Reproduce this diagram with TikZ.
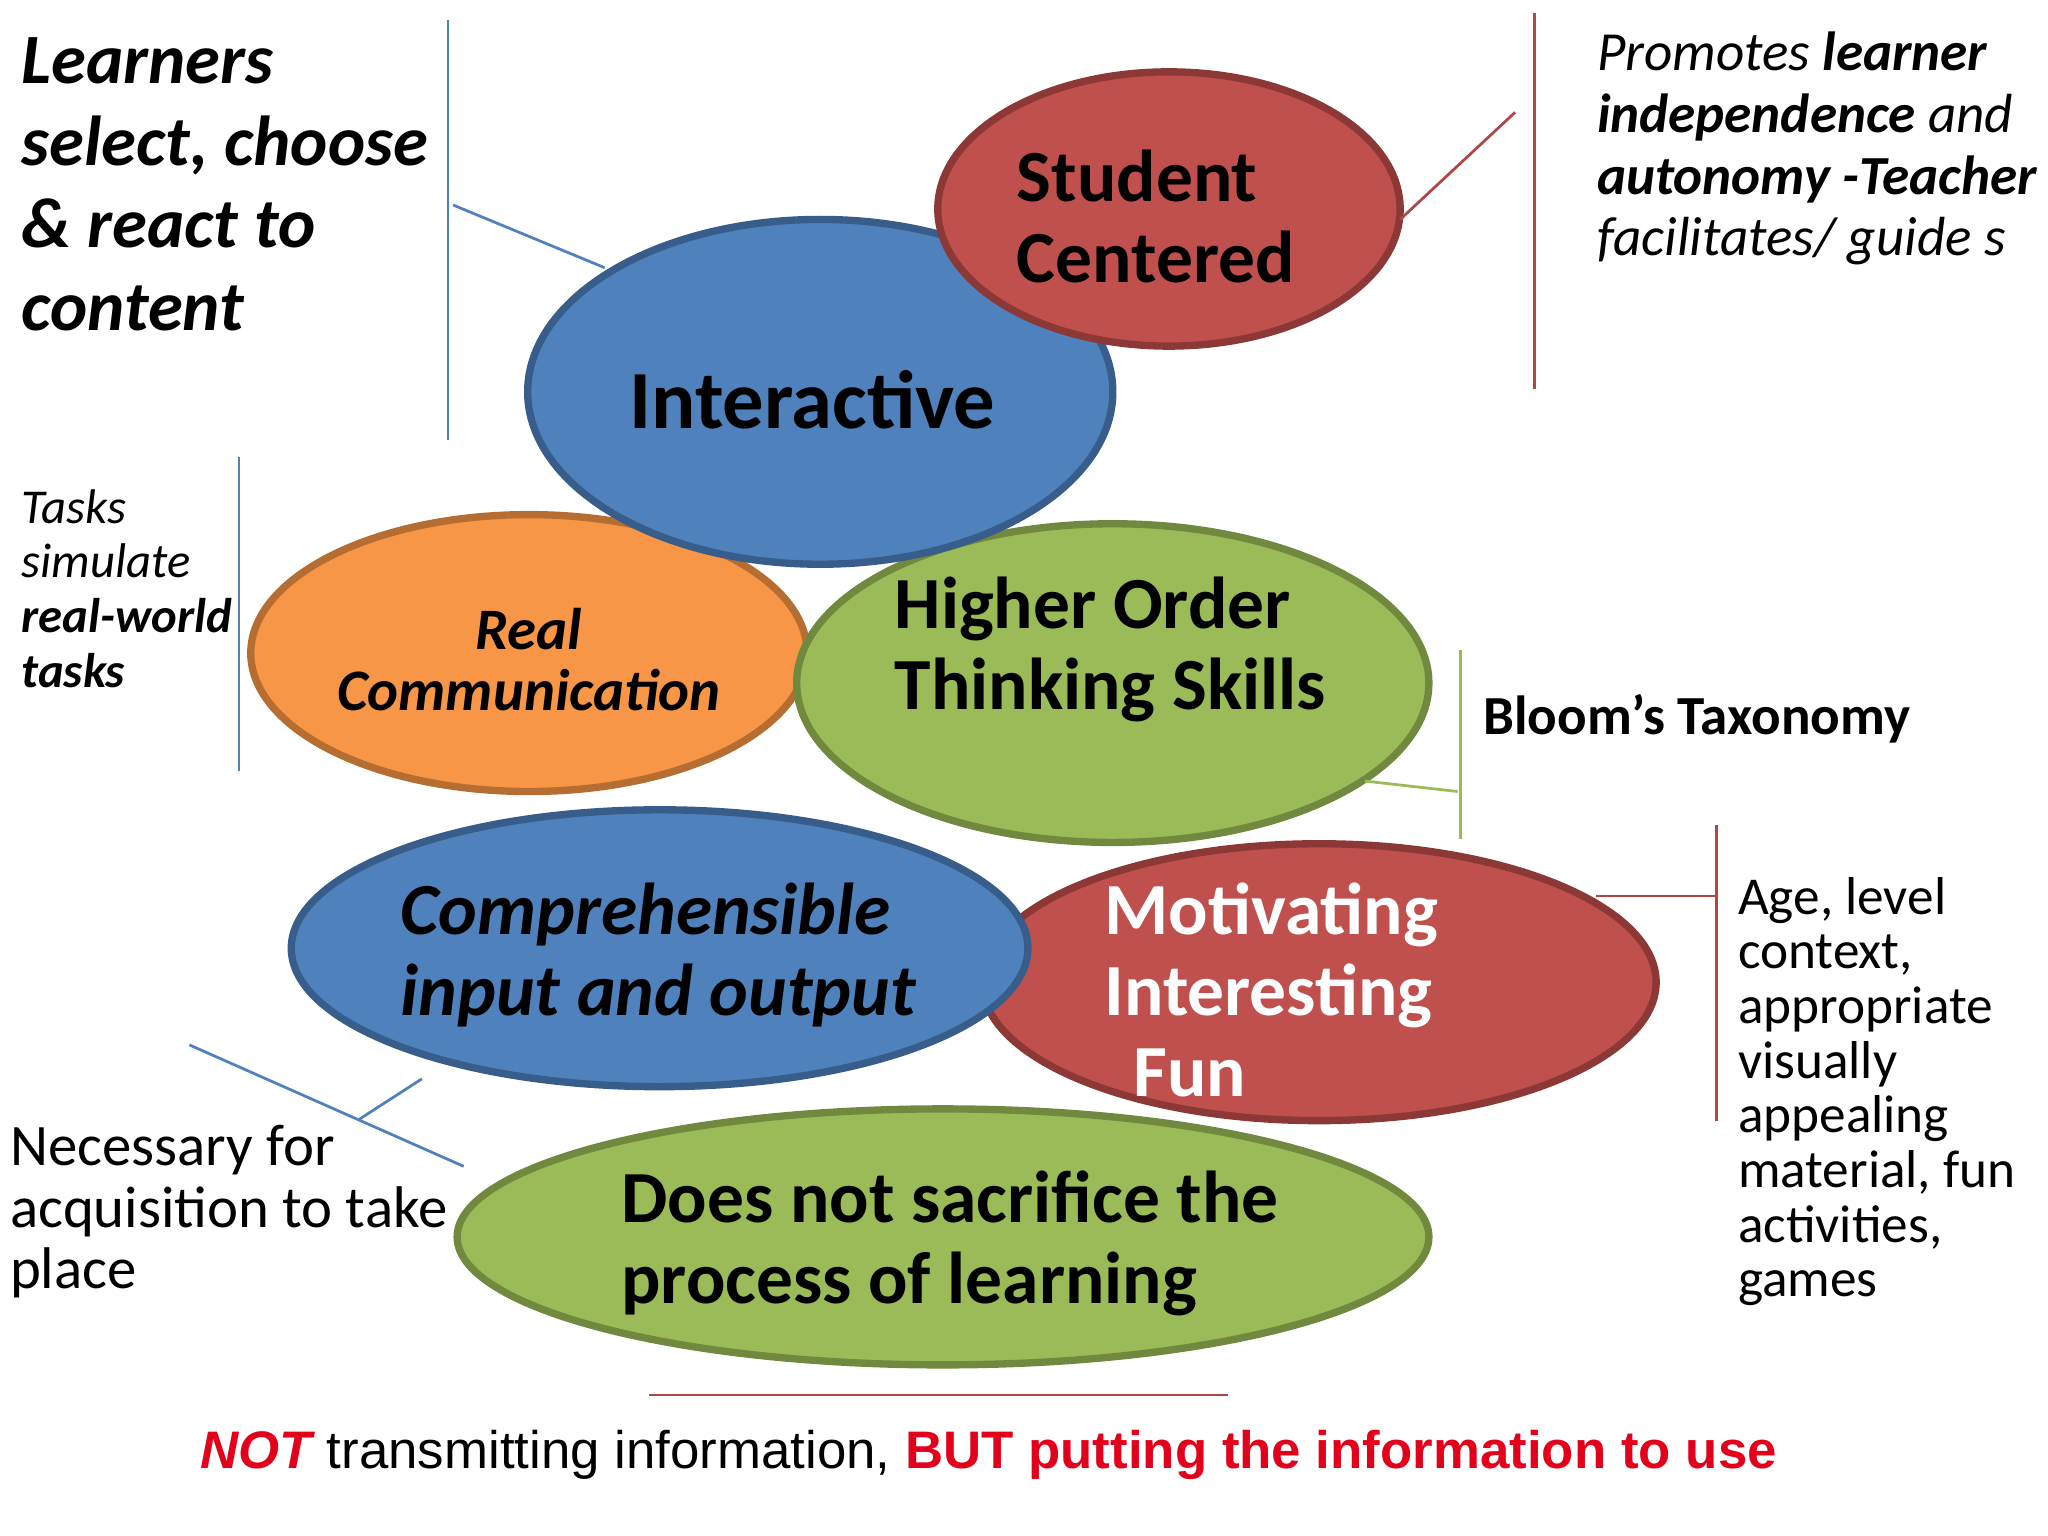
\documentclass[tikz,border=0pt]{standalone}
\usepackage{fontspec}
\setmainfont{Carlito}
\newfontfamily\arialf{Liberation Sans}
\definecolor{cblue}{HTML}{4F81BD}\definecolor{cblueb}{HTML}{385D8A}
\definecolor{cred}{HTML}{C0504D}\definecolor{credb}{HTML}{8C3836}
\definecolor{corange}{HTML}{F79646}\definecolor{corangeb}{HTML}{B66D31}
\definecolor{cgreen}{HTML}{9BBB59}\definecolor{cgreenb}{HTML}{71893F}
\definecolor{txtred}{HTML}{E3001B}
\begin{document}
\begin{tikzpicture}[x=0.01cm,y=-0.01cm,
 ell/.style={line width=1.6pt},
 bl/.style={draw=cblue,line width=0.6pt},
 rl/.style={draw=cred!90!black,line width=0.6pt},
 gl/.style={draw=cgreen,line width=0.6pt},
 txt/.style={align=left,inner sep=0pt}]
\useasboundingbox (0,0) rectangle (1568,1176);
% ellipses
\draw[ell,fill=corange,draw=corangeb] (405,500) ellipse [x radius=213,y radius=106];
\draw[ell,fill=cgreen,draw=cgreenb] (852,523) ellipse [x radius=242,y radius=122];
\draw[ell,fill=cblue,draw=cblueb] (628,300) ellipse [x radius=224,y radius=132];
\draw[ell,fill=cred,draw=credb] (895,160) ellipse [x radius=177,y radius=105];
\draw[ell,fill=cred,draw=credb] (1010,752) ellipse [x radius=258,y radius=106];
\draw[ell,fill=cblue,draw=cblueb] (505,726) ellipse [x radius=282,y radius=106];
\draw[ell,fill=cgreen,draw=cgreenb] (722,947) ellipse [x radius=372,y radius=98];
% ellipse texts
\node[txt,font=\fontsize{16}{17.6}\selectfont\bfseries] (sc) at (885,166) {Student\\Centered};
\node[txt,font=\fontsize{18}{20}\selectfont\bfseries] (int) at (622,306) {Interactive};
\node[txt,font=\fontsize{12.8}{13.4}\selectfont\bfseries\itshape,align=center] (rc) at (405,505) {Real\\Communication};
\node[txt,font=\fontsize{16}{17.6}\selectfont\bfseries] (hot) at (850,497) {Higher Order\\Thinking Skills};
\node[txt,font=\fontsize{16}{17.6}\selectfont\bfseries\itshape] (cio) at (504,731) {Comprehensible\\input and output};
\node[txt,font=\fontsize{16}{17.6}\selectfont\bfseries,text=white,anchor=west] (mot) at (845,758) {Motivating\\Interesting\\\ \,Fun};
\node[txt,font=\fontsize{16}{17.6}\selectfont\bfseries,anchor=west] (dns) at (475,952) {Does not sacrifice the\\process of learning};
% side texts
\node[txt,font=\fontsize{15.4}{17.9}\selectfont\bfseries\itshape,anchor=north west] (lrn) at (16,28) {Learners\\select, choose\\\& react to\\content};
\node[txt,font=\fontsize{12}{13.4}\selectfont\itshape,anchor=north west] (pro) at (1222,24) {Promotes \textbf{learner}\\\textbf{independence} and\\\textbf{autonomy -Teacher}\\facilitates/ guide s};
\node[txt,font=\fontsize{10.6}{11.9}\selectfont\itshape,anchor=north west] (tsk) at (16,374) {Tasks\\simulate\\\textbf{real-world}\\\textbf{tasks}};
\node[txt,font=\fontsize{12}{13}\selectfont\bfseries,anchor=west] (blm) at (1135,550) {Bloom’s Taxonomy};
\node[txt,font=\fontsize{11.6}{11.9}\selectfont,anchor=north west] (age) at (1330,671) {Age, level\\context,\\appropriate\\visually\\appealing\\material, fun\\activities,\\games};
\node[txt,font=\fontsize{12.8}{13.4}\selectfont,anchor=north west] (nec) at (7,861) {Necessary for\\acquisition to take\\place};
\node[txt,font=\arialf\fontsize{11.5}{13}\selectfont,anchor=center] (bot) at (757,1114) {\textcolor{txtred}{\bfseries\itshape NOT} transmitting information, \textcolor{txtred}{\bfseries BUT putting the information to use}};
% connectors
\coordinate (a1) at (343,15);\coordinate (a2) at (343,337);
\coordinate (a3) at (347,157);\coordinate (a4) at (463,205);
\draw[bl] (a1)--(a2); \draw[bl] (a3)--(a4);
\coordinate (b1) at (1175,10);\coordinate (b2) at (1175,298);
\coordinate (b3) at (1072,168);\coordinate (b4) at (1160,86);
\draw[rl] (b1)--(b2); \draw[rl] (b3)--(b4);
\coordinate (c1) at (183,350);\coordinate (c2) at (183,590);
\draw[bl] (c1)--(c2);
\coordinate (d1) at (1118,498);\coordinate (d2) at (1118,642);
\coordinate (d3) at (1045,598);\coordinate (d4) at (1116,606);
\draw[gl] (d1)--(d2); \draw[gl] (d3)--(d4);
\coordinate (e1) at (1314,632);\coordinate (e2) at (1314,858);
\coordinate (e3) at (1222,686);\coordinate (e4) at (1314,686);
\draw[rl] (e1)--(e2); \draw[rl] (e3)--(e4);
\coordinate (f1) at (145,800);\coordinate (f2) at (355,893);
\coordinate (f3) at (275,857);\coordinate (f4) at (323,826);
\draw[bl] (f1)--(f2); \draw[bl] (f3)--(f4);
\coordinate (g1) at (497,1068);\coordinate (g2) at (940,1068);
\draw[rl] (g1)--(g2);
\end{tikzpicture}
\end{document}
